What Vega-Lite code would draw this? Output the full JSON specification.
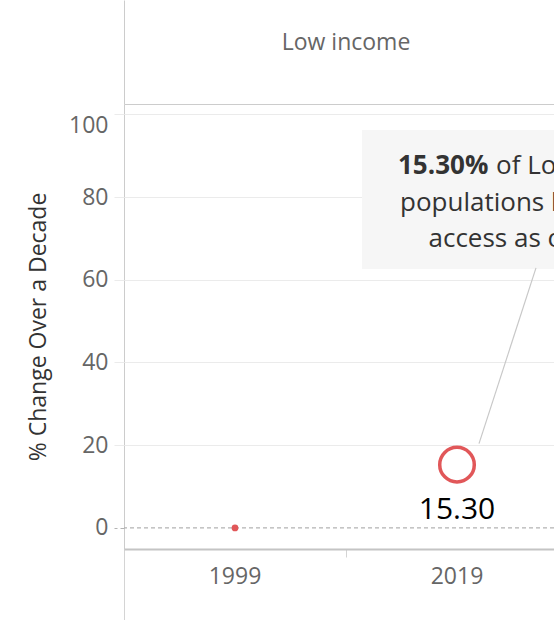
{
  "$schema": "https://vega.github.io/schema/vega-lite/v6.json",
  "width": 444,
  "height": 445,
  "autosize": {"type": "none"},
  "padding": {"left": 124, "top": 104, "right": -14, "bottom": 71},
  "background": "white",
  "config": {
    "view": {"stroke": "#cccccc", "strokeWidth": 1},
    "font": "Open Sans"
  },
  "title": {
    "text": "Low income",
    "fontSize": 23,
    "font": "Open Sans",
    "fontWeight": "normal",
    "color": "#666666",
    "anchor": "middle",
    "frame": "group",
    "baseline": "alphabetic",
    "offset": -73
  },
  "datasets": {
    "points": [
      {"year": "1999", "value": 0},
      {"year": "2019", "value": 15.3}
    ],
    "reference": [{"value": 0}],
    "annotation": [
      {"year": "2019", "value": 15.3, "pct": "15.30%", "line1": "of Low income", "line2": "populations have", "line3": "access as of 2019"}
    ]
  },
  "resolve": {"axis": {"x": "independent"}},
  "layer": [
    {
      "data": {"name": "reference"},
      "mark": {"type": "rule", "color": "#b3b3b3", "strokeDash": [4, 3], "strokeWidth": 1.2},
      "encoding": {
        "y": {
          "field": "value",
          "type": "quantitative",
          "scale": {"domain": [-5.1, 102.5], "nice": false, "zero": false},
          "axis": {
            "title": "% Change Over a Decade",
            "titleFont": "Open Sans",
            "titleFontSize": 23,
            "titleFontWeight": "normal",
            "titleColor": "#333333",
            "titlePadding": 18,
            "values": [0, 20, 40, 60, 80, 100],
            "labelFont": "Open Sans",
            "labelFontSize": 23,
            "labelColor": "#666666",
            "labelPadding": 6,
            "labelBaseline": {"condition": {"test": "datum.value === 100", "value": "top"}, "value": "middle"},
            "domain": false,
            "tickSize": 10,
            "tickColor": {"condition": {"test": "datum.value === 0", "value": "#b3b3b3"}, "value": "#ebebeb"},
            "tickDash": {"condition": {"test": "datum.value === 0", "value": [4, 3]}, "value": []},
            "gridColor": "#ebebeb",
            "gridOpacity": {"condition": {"test": "datum.value === 0", "value": 0}, "value": 1}
          }
        }
      }
    },
    {
      "data": {"name": "annotation"},
      "mark": {"type": "rect", "fill": "#f6f6f6", "xOffset": 16, "x2Offset": 16, "yOffset": -334.7, "y2Offset": -195.7},
      "encoding": {
        "x": {
          "field": "year",
          "type": "ordinal",
          "scale": {"type": "band", "paddingInner": 0, "paddingOuter": 0},
          "axis": {
            "orient": "top",
            "title": null,
            "labels": false,
            "domain": false,
            "bandPosition": 0,
            "tickColor": "#cccccc",
            "tickSize": 104,
            "tickOpacity": {"condition": {"test": "datum.value === '1999'", "value": 1}, "value": 0}
          }
        },
        "y": {"field": "value", "type": "quantitative"},
        "y2": {"field": "value"}
      }
    },
    {
      "data": {"name": "annotation"},
      "mark": {"type": "rule", "color": "#c8c8c8", "strokeWidth": 1.2, "xOffset": 22, "x2Offset": 79, "yOffset": -21, "y2Offset": -196.7},
      "encoding": {
        "x": {"field": "year", "type": "ordinal", "axis": null},
        "x2": {"field": "year"},
        "y": {"field": "value", "type": "quantitative"},
        "y2": {"field": "value"}
      }
    },
    {
      "data": {"name": "annotation"},
      "mark": {"type": "text", "align": "left", "baseline": "alphabetic", "fontSize": 26, "fontWeight": "bold", "color": "#333333", "dx": -59, "dy": -290.7},
      "encoding": {
        "x": {"field": "year", "type": "ordinal", "axis": null},
        "y": {"field": "value", "type": "quantitative"},
        "text": {"field": "pct"}
      }
    },
    {
      "data": {"name": "annotation"},
      "mark": {"type": "text", "align": "left", "baseline": "alphabetic", "fontSize": 26, "color": "#333333", "dx": 39, "dy": -290.7},
      "encoding": {
        "x": {"field": "year", "type": "ordinal", "axis": null},
        "y": {"field": "value", "type": "quantitative"},
        "text": {"field": "line1"}
      }
    },
    {
      "data": {"name": "annotation"},
      "mark": {"type": "text", "align": "left", "baseline": "alphabetic", "fontSize": 26, "color": "#333333", "dx": -57, "dy": -253.7},
      "encoding": {
        "x": {"field": "year", "type": "ordinal", "axis": null},
        "y": {"field": "value", "type": "quantitative"},
        "text": {"field": "line2"}
      }
    },
    {
      "data": {"name": "annotation"},
      "mark": {"type": "text", "align": "left", "baseline": "alphabetic", "fontSize": 26, "color": "#333333", "dx": -28.5, "dy": -217.7},
      "encoding": {
        "x": {"field": "year", "type": "ordinal", "axis": null},
        "y": {"field": "value", "type": "quantitative"},
        "text": {"field": "line3"}
      }
    },
    {
      "data": {"name": "points"},
      "transform": [{"filter": "datum.year == '2019'"}],
      "mark": {"type": "text", "align": "center", "baseline": "alphabetic", "fontSize": 30, "color": "#000000", "dy": 54.5},
      "encoding": {
        "x": {"field": "year", "type": "ordinal", "axis": null},
        "y": {"field": "value", "type": "quantitative"},
        "text": {"field": "value", "type": "quantitative", "format": ".2f"}
      }
    },
    {
      "data": {"name": "points"},
      "transform": [{"filter": "datum.year == '1999'"}],
      "mark": {"type": "circle", "color": "#e15759", "size": 45, "opacity": 1},
      "encoding": {
        "x": {"field": "year", "type": "ordinal", "axis": null},
        "y": {"field": "value", "type": "quantitative"}
      }
    },
    {
      "data": {"name": "points"},
      "transform": [{"filter": "datum.year == '2019'"}],
      "mark": {"type": "point", "shape": "circle", "filled": false, "stroke": "#e15759", "strokeWidth": 3.5, "size": 1195, "opacity": 1},
      "encoding": {
        "x": {
          "field": "year",
          "type": "ordinal",
          "axis": {
            "orient": "bottom",
            "title": null,
            "labelAngle": 0,
            "labelFont": "Open Sans",
            "labelFontSize": 23,
            "labelColor": "#666666",
            "labelPadding": {"condition": {"test": "datum.value === '1999'", "value": -55}, "value": 8},
            "domain": true,
            "domainColor": "#c4c4c4",
            "domainWidth": 2,
            "bandPosition": 0,
            "tickColor": "#d4d4d4",
            "tickSize": {"condition": {"test": "datum.value === '1999'", "value": 71}, "value": 8}
          }
        },
        "y": {"field": "value", "type": "quantitative"}
      }
    }
  ]
}
